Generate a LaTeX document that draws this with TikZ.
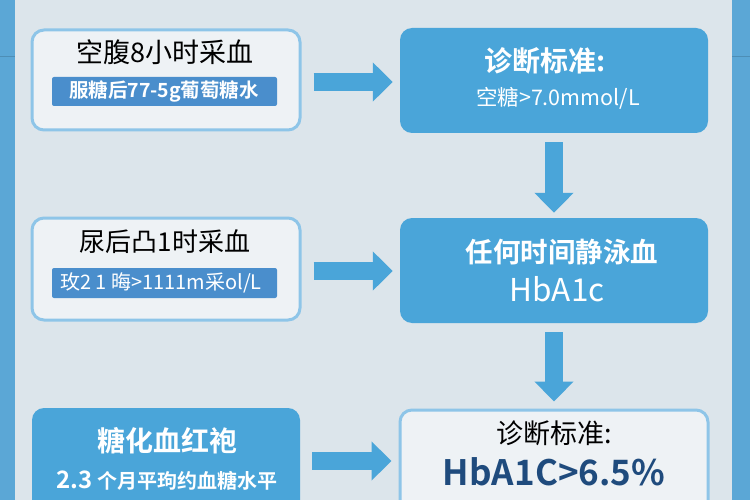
\documentclass[tikz,border=0pt]{standalone}
\usepackage{fontspec}
\setmainfont{Noto Sans CJK SC}[BoldFont={Noto Sans CJK SC Bold}]
\usetikzlibrary{arrows.meta}
\definecolor{bgcol}{HTML}{DCE5EB}
\definecolor{boxblue}{HTML}{4AA5D9}
\definecolor{bandblue}{HTML}{4A8ECC}
\definecolor{edgeblue}{HTML}{8EC5E8}
\definecolor{paper}{HTML}{EEF2F5}
\definecolor{navy}{HTML}{1F4B7D}
\definecolor{stripblue}{HTML}{5BA7D6}
\newcommand{\fs}[1]{\fontsize{#1}{#1}\selectfont}
\tikzset{
  whitebox/.style={draw=edgeblue, line width=3pt, fill=paper, rounded corners=12pt, inner sep=0pt},
  bluebox/.style={fill=boxblue, rounded corners=12pt, inner sep=0pt},
  band/.style={fill=bandblue, rounded corners=2pt, inner sep=0pt, minimum width=225pt, minimum height=29pt},
  flow/.style={draw=boxblue, line width=18pt, -{Triangle[width=38pt,length=20pt]}},
  lbl/.style={inner sep=0pt, text=white},
}
\begin{document}
\begin{tikzpicture}[x=1pt, y=-1pt]
  \useasboundingbox (0,0) rectangle (750,500);
  \fill[bgcol] (0,0) rectangle (750,500);
  % side strips
  \fill[stripblue] (0,0) rectangle (15,500);
  \fill[stripblue] (732,0) rectangle (750,500);
  \draw[stripblue!85!black, line width=1pt] (0,57) -- (15,57);
  \draw[stripblue!85!black, line width=1pt] (732,57) -- (750,57);

  % left column
  \node[whitebox, minimum width=268pt, minimum height=100pt] (fast) at (166,80) {};
  \node[band] (fastband) at (164.5,91.5) {};
  \node[inner sep=0pt] (fasttitle) at (165,52) {\fs{27}空腹8小时采血};
  \node[lbl] (fasttext) at (164,91) {\fs{19.5}\bfseries 服糖后77-5g葡萄糖水};

  \node[whitebox, minimum width=268pt, minimum height=102pt] (ogtt) at (166,269) {};
  \node[band, minimum height=30pt] (ogttband) at (164.5,283) {};
  \node[inner sep=0pt] (ogtttitle) at (165,242) {\fs{26}尿后凸1时采血};
  \node[lbl] (ogtttext) at (161,283) {\fs{20}玫2 1 晦>1111m采ol/L};

  \node[bluebox, minimum width=268pt, minimum height=106pt] (hba) at (166,461) {};
  \node[lbl] (hbatitle) at (167,441) {\fs{28}\bfseries 糖化血红袍};
  \node[lbl] (hbatext) at (167,481) {\bfseries\fs{24}2.3 \fs{20}个月平玽约血糖水平};

  % right column
  \node[bluebox, minimum width=308pt, minimum height=105pt] (crit1) at (554,80.5) {};
  \node[lbl] (crit1title) at (545,61) {\fs{28}\bfseries 诊断标准:};
  \node[lbl] (crit1text) at (558,98) {\fs{21.5}空糖>7.0mmol/L};

  \node[bluebox, minimum width=308pt, minimum height=105pt] (rand) at (554,270.5) {};
  \node[lbl] (randtitle) at (562,252) {\fs{27.5}\bfseries 任何时间静泳血};
  \node[lbl] (randtext) at (557,289) {\fs{31.5}HbA1c};

  \node[whitebox, minimum width=308pt, minimum height=104pt] (crit2) at (554,462) {};
  \node[inner sep=0pt] (crit2title) at (554,433) {\fs{27}诊断标准:};
  \node[inner sep=0pt, text=navy] (crit2text) at (554,472) {\fs{35}\bfseries HbA1C>6.5\%};

  % arrows
  \draw[flow, shorten <=12pt, shorten >=7pt] ([yshift=-2pt]fast.east) -- ([yshift=-2pt]fast.east -| crit1.west);
  \draw[flow, shorten <=12pt, shorten >=7pt] ([yshift=-2pt]ogtt.east) -- ([yshift=-2pt]ogtt.east -| rand.west);
  \draw[flow, shorten <=12pt, shorten >=7pt] (hba.east) -- (hba.east -| crit2.west);
  \draw[flow, shorten <=9pt, shorten >=5pt] (crit1.south) -- (rand.north);
  \draw[flow, shorten <=9pt, shorten >=7pt] (rand.south) -- (crit2.north);
\end{tikzpicture}
\end{document}
